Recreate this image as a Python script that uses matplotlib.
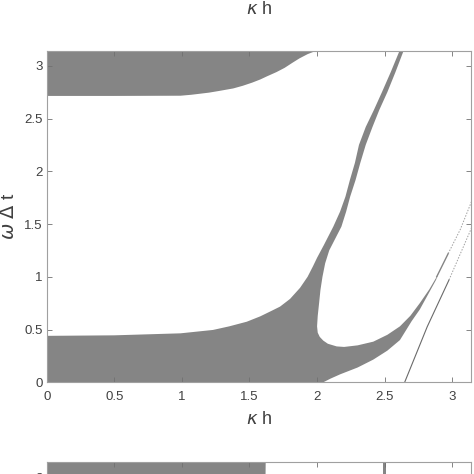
import matplotlib
matplotlib.use("Agg")
import matplotlib.pyplot as plt
import numpy as np

plt.rcParams["font.family"] = ["Liberation Sans", "DejaVu Sans"]
plt.rcParams["mathtext.fontset"] = "dejavusans"

PI = np.pi
FILL = "#858585"
TEXT = "#404040"
SPINE = "#a0a0a0"

# upper grey band (kh, omega dt), boundary
top_kh = [0.0, 0.50, 0.99, 1.07, 1.135, 1.20, 1.27, 1.38, 1.45, 1.52, 1.58, 1.63,
          1.70, 1.76, 1.82, 1.87, 1.93, 1.98, 2.02, 0.0]
top_wdt = [2.714, 2.714, 2.716, 2.725, 2.735, 2.745, 2.76, 2.785, 2.81, 2.84, 2.87, 2.90,
           2.94, 2.98, 3.03, 3.07, 3.11, 3.135, PI, PI]

# lower grey region: left edge up the tongue, back down, round the arm
low_kh = [0.0, 0.0, 0.50, 0.99, 1.23, 1.35, 1.48, 1.58, 1.66, 1.726, 1.80, 1.874,
          1.93, 1.97, 2.0, 2.05, 2.12, 2.17, 2.21, 2.243, 2.28, 2.31, 2.36, 2.42,
          2.48, 2.545, 2.61,
          2.64, 2.58, 2.52, 2.46, 2.41, 2.36, 2.32, 2.285, 2.245, 2.215, 2.18, 2.13,
          2.09, 2.06, 2.04, 2.025, 2.015, 2.005, 2.0, 2.005, 2.02, 2.046, 2.08, 2.145,
          2.20, 2.30, 2.416, 2.52, 2.613, 2.69, 2.76, 2.83, 2.885, 2.90,
          2.88, 2.82, 2.76, 2.70, 2.613, 2.52, 2.416, 2.30, 2.17, 2.10, 2.046]
low_wdt = [0.0, 0.44, 0.445, 0.464, 0.496, 0.53, 0.574, 0.625, 0.675, 0.717, 0.79, 0.895,
           1.0, 1.10, 1.18, 1.30, 1.475, 1.617, 1.76, 1.918, 2.08, 2.25, 2.42, 2.58,
           2.75, 2.94, PI,
           PI, 2.94, 2.75, 2.58, 2.42, 2.25, 2.08, 1.918, 1.76, 1.617, 1.475, 1.35,
           1.25, 1.128, 1.0, 0.875, 0.75, 0.63, 0.53, 0.47, 0.43, 0.395, 0.365, 0.34,
           0.335, 0.35, 0.385, 0.45, 0.53, 0.63, 0.75, 0.88, 1.0, 1.04,
           0.97, 0.83, 0.69, 0.58, 0.40, 0.30, 0.215, 0.14, 0.075, 0.035, 0.0]

# thin continuation of the arm
arm_kh = [2.885, 2.97]
arm_wdt = [1.0, 1.22]
arm_dot_kh = [2.97, 3.06, PI]
arm_dot_wdt = [1.22, 1.45, 1.71]

# straight thin line on the right
line_kh = [2.648, 2.815, 2.976]
line_wdt = [0.0, 0.527, 0.97]
line_dot_kh = [2.976, PI]
line_dot_wdt = [0.97, 1.46]

# next panel (only its top edge shows)
next_fill_kh = [0.0, 1.60, 1.615, 1.62, 0.0]
next_fill_wdt = [2.0, 2.0, 2.6, PI, PI]
next_bar_kh = [2.485, 2.51]

ticks = [0, 0.5, 1, 1.5, 2, 2.5, 3]
tick_labels = [f"{t:g}" for t in ticks]


def style_axes(ax, xlabels, ylabels):
    ax.set_xlim(0, PI)
    ax.set_ylim(0, PI)
    ax.set_xticks(ticks)
    ax.set_yticks(ticks)
    ax.set_xticklabels(xlabels)
    ax.set_yticklabels(ylabels)
    ax.tick_params(direction="in", length=3.5, width=0.6, color="#707070",
                   labelsize=9.5, labelcolor=TEXT, top=True, right=True, pad=3)
    ax.tick_params(axis="x", pad=6)
    for s in ax.spines.values():
        s.set_color(SPINE)
        s.set_linewidth(0.8)


fig = plt.figure(figsize=(4.74, 4.74), dpi=100)

ax = fig.add_axes([0.0985, 0.1935, 0.896, 0.6993])
ax.fill(top_kh, top_wdt, color=FILL, lw=0)
ax.fill(low_kh, low_wdt, color=FILL, lw=0)
ax.plot(arm_kh, arm_wdt, color=FILL, lw=1.0)
ax.plot(arm_dot_kh, arm_dot_wdt, color="#a0a0a0", lw=0.7, ls=(0, (1.5, 1.5)))
ax.plot(line_kh, line_wdt, color="#6a6a6a", lw=0.8)
ax.plot(line_dot_kh, line_dot_wdt, color="#a0a0a0", lw=0.7, ls=(0, (1.5, 1.5)))
style_axes(ax, tick_labels, tick_labels)
ax.set_xlabel(r"$\kappa$ h", fontsize=13, color=TEXT, labelpad=6)
ax.set_ylabel(r"$\omega$ $\Delta$ t", fontsize=14, color=TEXT, labelpad=4)

# label of the panel above
fig.text(0.546, 0.981, r"$\kappa$ h", fontsize=13, color=TEXT,
         ha="center", va="center")

# panel below: only its top strip is inside the picture
ax2 = fig.add_axes([0.0985, 0.0247 - 0.6993, 0.896, 0.6993])
ax2.fill(next_fill_kh, next_fill_wdt, color=FILL, lw=0)
ax2.axvspan(next_bar_kh[0], next_bar_kh[1], color=FILL, lw=0)
style_axes(ax2, [""] * len(ticks), [""] * (len(ticks) - 1) + [tick_labels[-1]])

fig.savefig("out.png", dpi=100)
